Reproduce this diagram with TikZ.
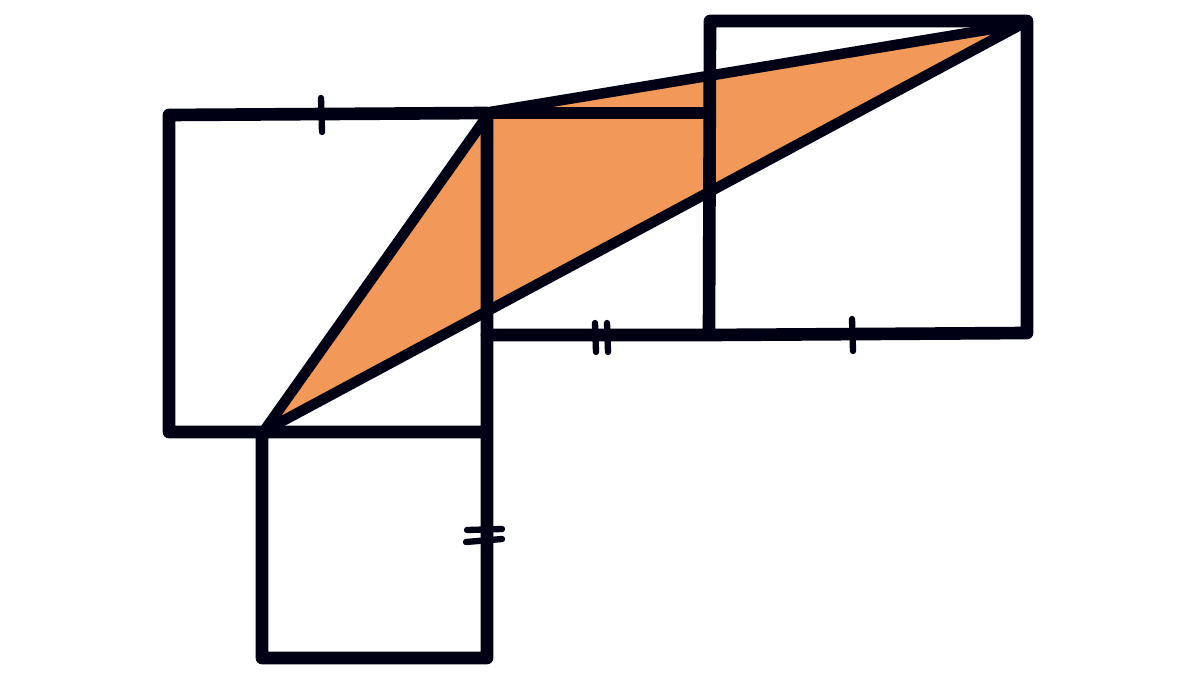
\documentclass[tikz,border=0pt]{standalone}
\usetikzlibrary{calc}
\begin{document}
\begin{tikzpicture}[x=0.025cm,y=-0.025cm,
  edge/.style={line width=9pt,black!92!blue,line cap=round,line join=round},
  diag/.style={line width=7.5pt,black!92!blue,line cap=round,line join=round},
  tick/.style={line width=4.5pt,black!92!blue,line cap=round},
  shade/.style={fill={rgb,255:red,242;green,152;blue,88}}]
\useasboundingbox (0,0) rectangle (1200,675);
% corners
\coordinate (L1) at (169,115);
\coordinate (L2) at (487,113);
\coordinate (L3) at (487,432);
\coordinate (L4) at (169,432);
\coordinate (S1) at (262,432);
\coordinate (S2) at (487,658);
\coordinate (S3) at (262,658);
\coordinate (M1) at (709,113);
\coordinate (M2) at (709,335);
\coordinate (M3) at (487,335);
\coordinate (R1) at (710,21);
\coordinate (R2) at (1027,21);
\coordinate (R3) at (1027,333);
% triangle vertices
\coordinate (A) at (264,431);
\coordinate (B) at (490,112);
\coordinate (C) at (1022,24);
\fill[shade] (A) -- (B) -- (C) -- cycle;
% squares
\draw[edge] (L3) -- (L4) -- (L1) -- (L2) -- (S2) -- (S3) -- (S1);
\draw[edge] (L2) -- (M1);
\draw[edge] (M3) -- (M2) -- (R3) -- (R2) -- (R1) -- (M2);
% triangle edges
\draw[diag] (A) -- (B) -- (C) -- cycle;
% tick marks
\coordinate (T1) at (321,115);
\draw[tick] ($(T1)+(0,-17)$) -- ($(T1)+(1,17)$);
\coordinate (T2) at (853,335);
\draw[tick] ($(T2)+(-1,-16)$) -- ($(T2)+(0,16)$);
\coordinate (T3) at (595,337);
\draw[tick] ($(T3)+(0,-14)$) -- ($(T3)+(1,15)$);
\draw[tick] ($(T3)+(12,-14)$) -- ($(T3)+(13,15)$);
\coordinate (T4) at (485,536);
\draw[tick] ($(T4)+(-18,-6)$) -- ($(T4)+(17,-7)$);
\draw[tick] ($(T4)+(-19,6)$) -- ($(T4)+(17,3)$);
\end{tikzpicture}
\end{document}
